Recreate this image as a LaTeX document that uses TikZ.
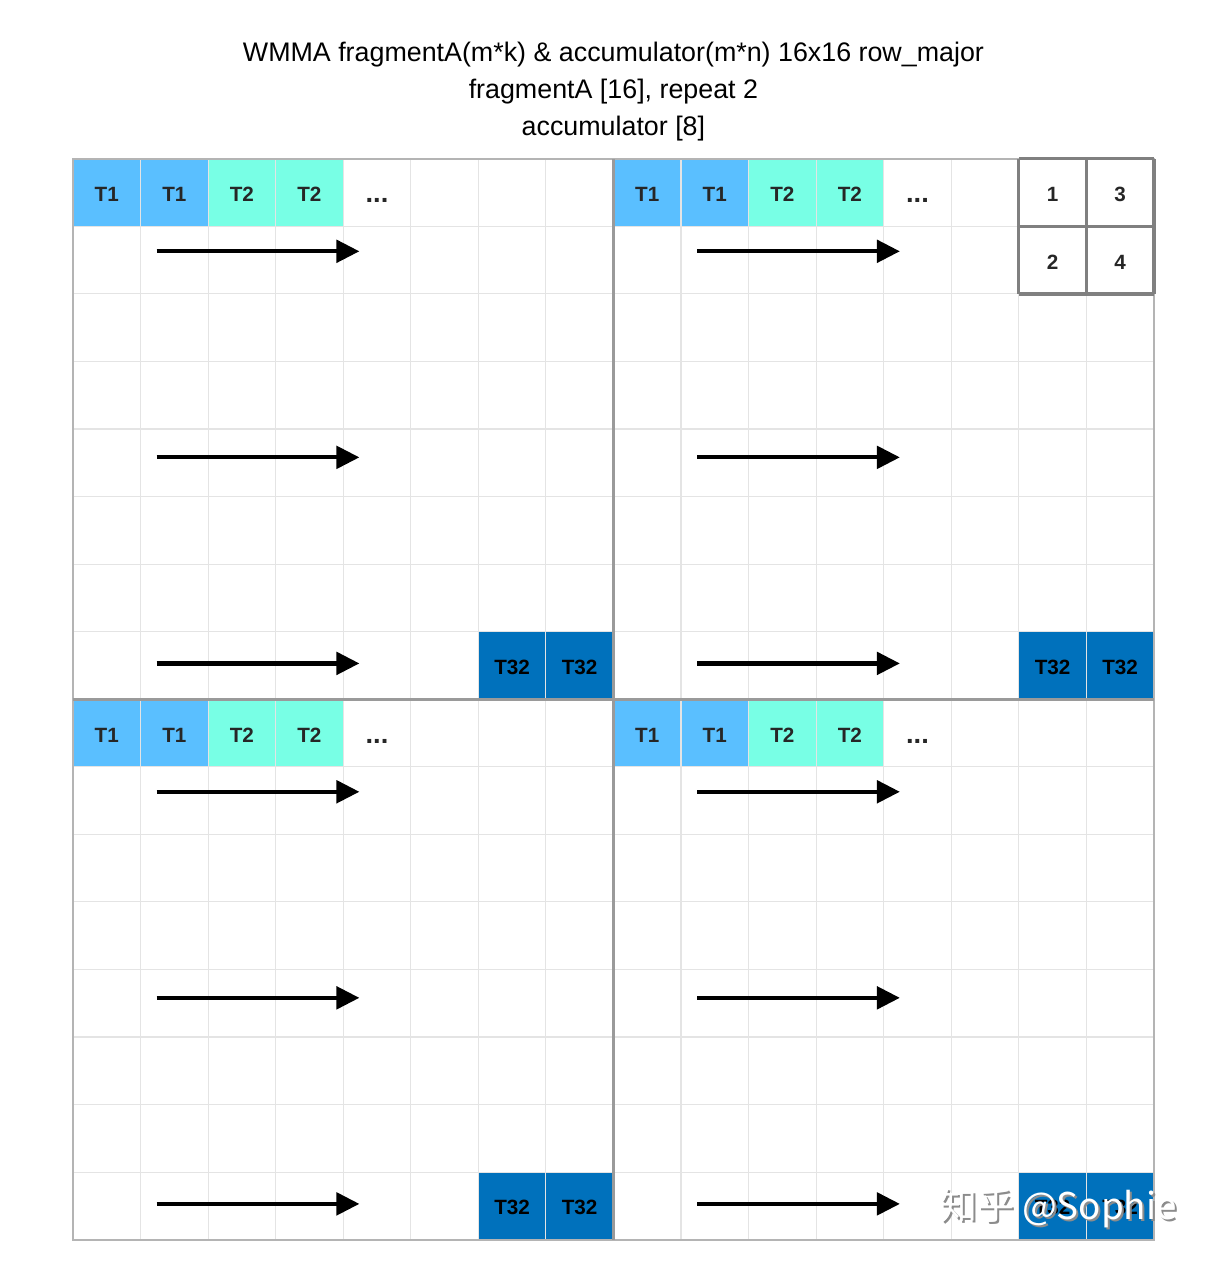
\documentclass[tikz,border=0pt]{standalone}
\usepackage{fontspec}
\setmainfont{Liberation Sans}
\newfontfamily\cjkfont{Noto Sans CJK SC}
\usetikzlibrary{arrows.meta,positioning}
\definecolor{wmaone}{HTML}{5ABFFF}
\definecolor{wmatwo}{HTML}{78FFE5}
\definecolor{wmalast}{HTML}{0071BC}
\definecolor{wmagrid}{HTML}{E4E4E4}
\definecolor{wmaedge}{HTML}{B4B4B4}
\definecolor{wmadiv}{HTML}{9A9A9A}
\definecolor{wmabox}{HTML}{808080}

\begin{document}
\begin{tikzpicture}[
  cell/.style={rectangle,minimum size=1cm,inner sep=0pt,text height=7.6pt,
               font=\fontsize{8.7}{10}\selectfont\bfseries,text=black!85},
  dots/.style={inner sep=0pt,anchor=base,
               font=\fontsize{11.5}{12}\selectfont\bfseries,text=black!85},
  title/.style={font=\fontsize{11.3}{15.6}\selectfont,align=center},
  flow/.style={-{Triangle[length=0.34cm,width=0.33cm]},line width=1.8pt},
  wmark/.style={font=\fontsize{15.5}{18}\selectfont\cjkfont,anchor=west,
                inner sep=0pt}
]
  \useasboundingbox (-1.08,-0.33) rectangle (16.77,18.35);

  % ---- Title ---------------------------------------------------
  \node[title] (head) at (8,17.0)
    {WMMA fragmentA(m*k) \& accumulator(m*n) 16x16 row\_major\\
     fragmentA [16], repeat 2\\accumulator [8]};

  % ---- Coloured cells of the four 8x8 quadrants ----------------
  \foreach \q/\ox/\oy in {tl/0/8, tr/8/8, bl/0/0, br/8/0} {
    \node[cell,fill=wmaone] (\q-T1a) at (\ox+0.5,\oy+7.5) {T1};
    \node[cell,fill=wmaone] (\q-T1b) at (\ox+1.5,\oy+7.5) {T1};
    \node[cell,fill=wmatwo] (\q-T2a) at (\ox+2.5,\oy+7.5) {T2};
    \node[cell,fill=wmatwo] (\q-T2b) at (\ox+3.5,\oy+7.5) {T2};
    \node[dots] (\q-dots) at (\ox+4.5,\oy+7.35) {...};
    \node[cell,fill=wmalast,text=black] (\q-T32a) at (\ox+6.5,\oy+0.5) {T32};
    \node[cell,fill=wmalast,text=black] (\q-T32b) at (\ox+7.5,\oy+0.5) {T32};
  }

  % ---- Grid, border and quadrant dividers ----------------------
  \draw[wmagrid,line width=0.45pt] (0,0) grid (16,16);
  \draw[wmaedge,line width=0.9pt] (0,0) rectangle (16,16);
  \draw[wmadiv,line width=1.3pt] (8,0) -- (8,16);
  \draw[wmadiv,line width=1.3pt] (0,8) -- (16,8);

  % ---- Row arrows ----------------------------------------------
  \foreach \q/\ox/\oy in {tl/0/8, tr/8/8, bl/0/0, br/8/0} {
    \foreach \r/\ay in {1/6.63, 2/3.58, 3/0.53} {
      \coordinate (\q-s\r) at (\ox+1.24,\oy+\ay);
      \coordinate (\q-e\r) at (\ox+4.24,\oy+\ay);
      \draw[flow] (\q-s\r) -- (\q-e\r);
    }
  }

  % ---- 2x2 order box (top right) -------------------------------
  \draw[wmabox,line width=1.4pt] (14,14) grid (16,16);
  \node[cell] (o1) at (14.5,15.5) {1};
  \node[cell] (o3) at (15.5,15.5) {3};
  \node[cell] (o2) at (14.5,14.5) {2};
  \node[cell] (o4) at (15.5,14.5) {4};

  % ---- Watermark -----------------------------------------------
  \node[wmark,text=black!45] (wm-shadow) at (12.86,0.44) {知乎 @Sophie};
  \node[wmark,text=white] (wm) at (12.83,0.47) {知乎 @Sophie};

\end{tikzpicture}
\end{document}
